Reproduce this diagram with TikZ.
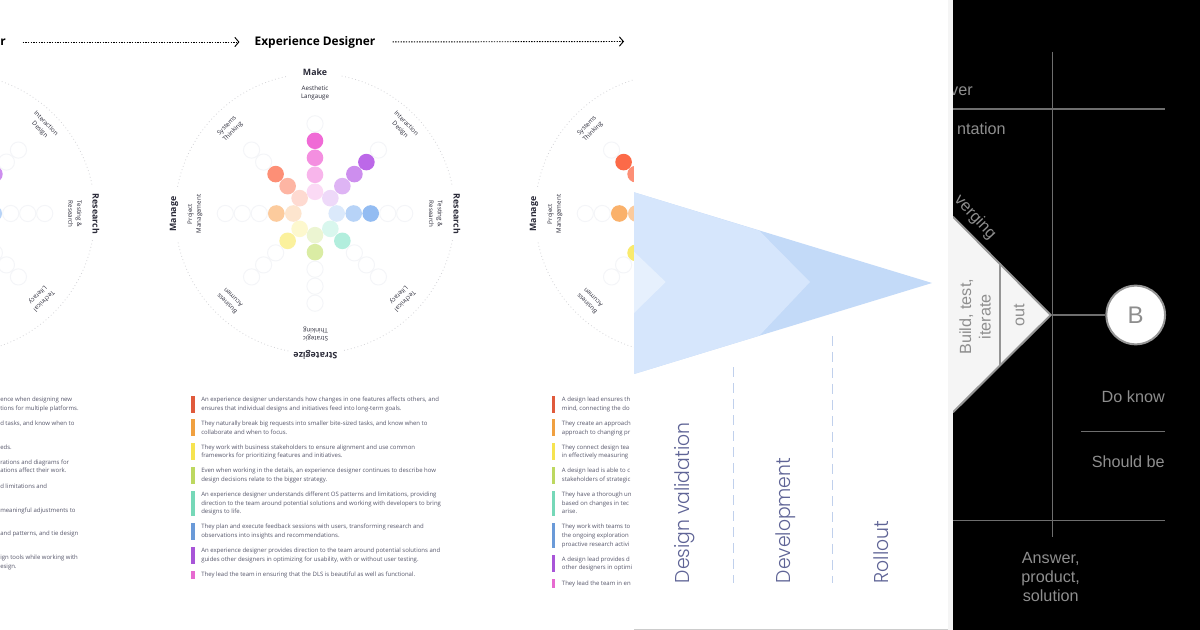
\documentclass[tikz,border=0pt]{standalone}
\usepackage{fontspec}
\setmainfont{Open Sans}
\newfontfamily\gothicfont[FakeStretch=.94]{Poppins Light}
\newfontfamily\panelfont{Liberation Sans}
\usetikzlibrary{arrows.meta}
\newcommand{\pxfont}[2][1.2]{\fontsize{\fpeval{#2*0.75}pt}{\fpeval{#2*0.75*#1}pt}\selectfont}
\definecolor{wheelpink}{HTML}{F06AD6}
\definecolor{wheelpurple}{HTML}{BC68E8}
\definecolor{wheelblue}{HTML}{6FA6EE}
\definecolor{wheelteal}{HTML}{66DDBB}
\definecolor{wheelgreen}{HTML}{B4D84A}
\definecolor{wheelyellow}{HTML}{F7E33B}
\definecolor{wheelorange}{HTML}{F9973A}
\definecolor{wheelred}{HTML}{FC6A48}
\definecolor{barred}{HTML}{E05A3C}
\definecolor{barorange}{HTML}{F0A040}
\definecolor{baryellow}{HTML}{F6E350}
\definecolor{barlime}{HTML}{BDD860}
\definecolor{barteal}{HTML}{76D8B8}
\definecolor{barblue}{HTML}{6A9AD8}
\definecolor{barpurple}{HTML}{A855D8}
\definecolor{barpink}{HTML}{E66AD0}
\definecolor{inktext}{HTML}{55566A}
\definecolor{inklabel}{HTML}{2A2A38}
\definecolor{ringgrey}{HTML}{D4D4D8}
\definecolor{emptyring}{HTML}{F4F5F8}
\definecolor{arrowlight}{HTML}{E6F0FD}
\definecolor{arrowmid}{HTML}{D6E6FC}
\definecolor{arrowdeep}{HTML}{C3DAF8}
\definecolor{phasetext}{HTML}{5F6496}
\definecolor{phasedash}{HTML}{C0D0EC}
\definecolor{axisgrey}{HTML}{6E6E6E}
\definecolor{paneltext}{HTML}{8E8E8E}
\definecolor{wedgefill}{HTML}{F5F5F5}
\definecolor{wedgeline}{HTML}{959595}
\tikzset{
  bigtitle/.style={font=\pxfont{11.9}\bfseries,text=black,inner sep=0},
  flowline/.style={line width=.7pt,dash pattern=on 1pt off 1pt,-{Straight Barb[length=3pt,width=7pt]}},
  ringline/.style={ringgrey,dotted,line width=.6pt},
  emptydot/.style={emptyring,line width=.7pt},
  axislabel/.style={font=\pxfont{8.8}\bfseries,text=inklabel,inner sep=0},
  sublabel/.style={font={\pxfont[1.4]{6.2}},text=inklabel,inner sep=0,align=center},
  listline/.style={font=\pxfont{6},text=inktext,inner sep=0,anchor=base west},
  phase/.style={font=\gothicfont\pxfont{20},text=phasetext,inner sep=0,rotate=90,anchor=base west},
  phasedivider/.style={phasedash,line width=1.2pt,dash pattern=on 7.5pt off 4.5pt},
  axis/.style={axisgrey,line width=.8pt},
  paneltxt/.style={font=\panelfont\pxfont{16.2},text=paneltext,inner sep=0,align=center},
  wedge/.style={fill=wedgefill,draw=wedgeline,line width=1.5pt}
}
% one wheel: centre x, then how many dots are filled on each of the eight spokes
\newcommand{\wheel}[2]{
  \foreach \ang/\col [count=\k] in {-90/wheelpink,-45/wheelpurple,0/wheelblue,45/wheelteal,90/wheelgreen,135/wheelyellow,180/wheelorange,225/wheelred}{
    \pgfmathtruncatemacro{\lvl}{{#2}[\k-1]}
    \foreach \rr in {1,...,5}{
      \pgfmathsetmacro{\dd}{4.7+17*\rr}
      \pgfmathtruncatemacro{\pct}{25*\rr}
      \ifnum\rr>\lvl
        \draw[emptydot] (#1,213.5) ++(\ang:\dd) circle (8.1);
      \else
        \fill[\col!\pct!white] (#1,213.5) ++(\ang:\dd) circle (8.3);
      \fi
    }
  }
  \foreach \a/\b in {11/79,101/169,191/259,281/349}
    \draw[ringline] (#1,213.5) ++(\a:140) arc (\a:\b:140);
}
\begin{document}
\begin{tikzpicture}[x=.75pt,y=-.75pt]
\useasboundingbox (0,0) rectangle (1200,630);
\fill[white] (0,0) rectangle (1200,630);

% career wheels
\begin{scope}
\clip (0,0) rectangle (634,630);
\wheel{-45}{0,3,2,2,0,0,0,0}
\wheel{315}{4,4,3,2,2,2,2,3}
\wheel{675}{0,0,0,0,0,3,3,4}

\node[bigtitle,anchor=west] (prevtitle) at (0,42) {r};
\node[bigtitle] (exptitle) at (315,42) {Experience Designer};
\coordinate (nextend) at (624,41.5);
\draw[flowline,shorten <=12.5pt,shorten >=11.25pt] (prevtitle.east|-exptitle) -- (exptitle.west);
\draw[flowline,shorten <=12.75pt] (exptitle.east) -- (nextend);

\foreach \lx/\ly/\rot/\txt [count=\n] in {
    315/72/0/Make,457/214/-90/Research,315.5/355/180/Strategize,174/214/90/Manage,
    96/214/-90/Research,534/214/90/Manage}
  \node[axislabel,rotate=\rot] (axis\n) at (\lx,\ly) {\txt};
\foreach \lx/\ly/\rot/\txt [count=\n] in {
    315/93/0/{Aesthetic\\Langauge},403/126.7/-45/{Interaction\\Design},
    435.7/214/-90/{Testing \&\\Research},401.7/298/-135/{Technical\\Literacy},
    315.5/334/180/{Strategic\\Thinking},230/300.7/135/{Business\\Acumen},
    195/214/90/{Project\\Management},230/129/45/{Systems\\Thinking},
    42.7/126.7/-45/{Interaction\\Design},75/214/-90/{Testing \&\\Research},
    40.7/298/-135/{Technical\\Literacy},555/214/90/{Project\\Management},
    590/129/45/{Systems\\Thinking},590/300.7/135/{Business\\Acumen}}
  \node[sublabel,rotate=\rot] (sub\n) at (\lx,\ly) {\txt};

% skill bars
\foreach \ya/\yb/\col in {395.7/412.7/barred,419.3/436.3/barorange,443/460/baryellow,467/484/barlime,
    490.7/516/barteal,523.3/540.3/barblue,547/564/barpurple,570.7/579.3/barpink}
  \fill[\col] (191,\ya) rectangle (194.7,\yb);
\foreach \ya/\yb/\col in {395.7/412.7/barred,419.3/436.3/barorange,443/460/baryellow,467/484/barlime,
    490.7/516/barteal,523.3/548.3/barblue,555.3/572.3/barpurple,579.3/587.7/barpink}
  \fill[\col] (551.7,\ya) rectangle (555.3,\yb);

% skill texts
\foreach \ly/\txt [count=\n] in {
    402/{ence when designing new},410.3/{tions for multiple platforms.},425.3/{d tasks, and know when to},
    449.3/{eds.},464.3/{rations and diagrams for},473/{ations affect their work.},
    488.7/{d limitations and},512.3/{meaningful adjustments to},536/{and patterns, and tie design},
    559.7/{ign tools while working with},568.3/{esign.}}
  \node[listline] (leftline\n) at (0,\ly) {\txt};
\foreach \ly/\txt [count=\n] in {
    402/{An experience designer understands how changes in one features affects others, and},
    410.3/{ensures that individual designs and initiatives feed into long-term goals.},
    425.3/{They naturally break big requests into smaller bite-sized tasks, and know when to},
    434.3/{collaborate and when to focus.},
    449.3/{They work with business stakeholders to ensure alignment and use common},
    458/{frameworks for prioritizing features and initiatives.},
    473/{Even when working in the details, an experience designer continues to describe how},
    481.7/{design decisions relate to the bigger strategy.},
    497/{An experience designer understands different OS patterns and limitations, providing},
    505.3/{direction to the team around potential solutions and working with developers to bring},
    514/{designs to life.},
    529/{They plan and execute feedback sessions with users, transforming research and},
    537.7/{observations into insights and recommendations.},
    553/{An experience designer provides direction to the team around potential solutions and},
    561.7/{guides other designers in optimizing for usability, with or without user testing.},
    576.7/{They lead the team in ensuring that the DLS is beautiful as well as functional.}}
  \node[listline] (midline\n) at (201,\ly) {\txt};
\foreach \ly/\txt [count=\n] in {
    402/{A design lead ensures th},410.3/{mind, connecting the do},425.3/{They create an approach},
    434.3/{approach to changing pr},449.3/{They connect design tea},458/{in effectively measuring},
    473/{A design lead is able to c},481.7/{stakeholders of strategic},497/{They have a thorough un},
    505.3/{based on changes in tec},514/{arise.},528.7/{They work with teams to},
    537.7/{the ongoing exploration},546.3/{proactive research activi},561.3/{A design lead provides d},
    570/{other designers in optimi},585.3/{They lead the team in en}}
  \node[listline] (rightline\n) at (561.7,\ly) {\txt};
\end{scope}

% funnel panel
\fill[wedgefill] (948,0) rectangle (953,630);
\fill[white] (634,0) rectangle (948,629);
\fill[white!80!black] (634,629) rectangle (948,630);
\fill[arrowdeep] (634,192.3) -- (932,283) -- (634,374) -- cycle;
\fill[arrowmid] (634,192.3) -- (759.3,230.7) -- (810,282) -- (759.3,335.7) -- (634,374) -- cycle;
\fill[arrowlight] (634,251.7) -- (665.7,282) -- (634,313) -- cycle;
\coordinate (dashone) at (733.3,367.3);
\coordinate (dashtwo) at (832.3,336);
\draw[phasedivider] (dashone) -- (dashone|-0,583);
\draw[phasedivider] (dashtwo) -- (dashtwo|-0,583);
\node[phase] (validation) at (689.3,583.5) {Design validation};
\node[phase] (development) at (790.7,583.5) {Development};
\node[phase] (rollout) at (888.7,583.5) {Rollout};

% black panel
\begin{scope}
\clip (953,0) rectangle (1200,630);
\fill[black] (953,0) rectangle (1200,630);
\coordinate (axistop) at (1052.3,51.7);
\coordinate (axisbottom) at (1052.3,536.7);
\coordinate (rowa) at (953,109);
\coordinate (rowb) at (953,520.7);
\coordinate (rowaend) at (1165,109);
\coordinate (rowbend) at (1165,520.7);
\coordinate (shortstart) at (1081,431.3);
\coordinate (shortend) at (1165,431.3);
\draw[axis] (axistop) -- (axisbottom);
\draw[axis] (rowa) -- (rowaend);
\draw[axis] (rowb) -- (rowbend);
\draw[axis] (shortstart) -- (shortend);
\coordinate (apex) at (1050.7,315);
\coordinate (wedgetop) at (953,216.7);
\coordinate (wedgebottom) at (953,412.3);
\draw[wedge] (wedgetop) -- (apex) -- (wedgebottom);
\draw[wedgeline,line width=1.5pt] (1000,263.3) -- (1000,365);
\node[circle,draw=wedgeline,fill=white,line width=1.5pt,minimum size=44pt,inner sep=0,font=\panelfont\pxfont{24},text=paneltext] (bnode) at (1135.7,315) {B};
\draw[axis] (apex) -- (bnode);
\node[paneltxt,anchor=east] (aboveline) at (973,91.7) {ver};
\node[paneltxt,anchor=east] (belowline) at (1006,128.3) {ntation};
\node[paneltxt,anchor=east] (doknow) at (1165,397) {Do know};
\node[paneltxt,anchor=east] (shouldbe) at (1165,462) {Should be};
\node[paneltxt,font={\panelfont\pxfont[1.17]{16.2}}] (answer) at (1050.7,577) {Answer,\\product,\\solution};
\node[paneltxt,rotate=-47] (converge) at (975,217.5) {verging};
\node[paneltxt,rotate=90] (buildtest) at (975,316.7) {Build, test,\\iterate};
\node[paneltxt,rotate=90] (outlabel) at (1019.3,315) {out};
\end{scope}
\end{tikzpicture}
\end{document}
